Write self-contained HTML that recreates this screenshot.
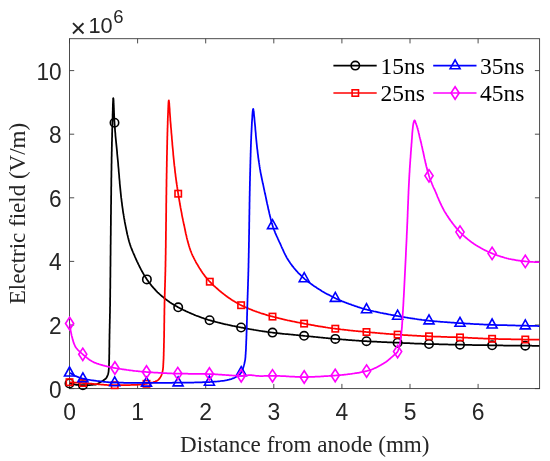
<!DOCTYPE html><html><head><meta charset="utf-8"><title>Electric field</title><style>html,body{margin:0;padding:0;background:#fff}svg{display:block}text{font-family:"Liberation Sans",sans-serif;fill:#262626}.t{font-family:"Liberation Serif",serif;fill:#000}.g{fill:#262626}</style></head><body>
<svg width="550" height="461" viewBox="0 0 550 461">
<rect width="550" height="461" fill="#fff"/>
<defs><clipPath id="c"><rect x="69.5" y="38.7" width="470.1" height="349.90000000000003"/></clipPath></defs>
<rect x="69.5" y="38.7" width="470.1" height="349.90000000000003" fill="none" stroke="#3a3a3a" stroke-width="0.9"/>
<path d="M69.5,388.6 v-4.7 M69.5,38.7 v4.7" stroke="#3a3a3a" stroke-width="0.9" fill="none"/>
<text transform="translate(69.5,420) scale(0.97,1)" font-size="23.6" text-anchor="middle">0</text>
<path d="M137.6,388.6 v-4.7 M137.6,38.7 v4.7" stroke="#3a3a3a" stroke-width="0.9" fill="none"/>
<text transform="translate(137.6,420) scale(0.97,1)" font-size="23.6" text-anchor="middle">1</text>
<path d="M205.7,388.6 v-4.7 M205.7,38.7 v4.7" stroke="#3a3a3a" stroke-width="0.9" fill="none"/>
<text transform="translate(205.7,420) scale(0.97,1)" font-size="23.6" text-anchor="middle">2</text>
<path d="M273.8,388.6 v-4.7 M273.8,38.7 v4.7" stroke="#3a3a3a" stroke-width="0.9" fill="none"/>
<text transform="translate(273.8,420) scale(0.97,1)" font-size="23.6" text-anchor="middle">3</text>
<path d="M341.9,388.6 v-4.7 M341.9,38.7 v4.7" stroke="#3a3a3a" stroke-width="0.9" fill="none"/>
<text transform="translate(341.9,420) scale(0.97,1)" font-size="23.6" text-anchor="middle">4</text>
<path d="M410.0,388.6 v-4.7 M410.0,38.7 v4.7" stroke="#3a3a3a" stroke-width="0.9" fill="none"/>
<text transform="translate(410.0,420) scale(0.97,1)" font-size="23.6" text-anchor="middle">5</text>
<path d="M478.1,388.6 v-4.7 M478.1,38.7 v4.7" stroke="#3a3a3a" stroke-width="0.9" fill="none"/>
<text transform="translate(478.1,420) scale(0.97,1)" font-size="23.6" text-anchor="middle">6</text>
<path d="M69.5,388.6 h4.7 M539.6,388.6 h-4.7" stroke="#3a3a3a" stroke-width="0.9" fill="none"/>
<text transform="translate(61.6,397.6) scale(0.96,1)" font-size="23.6" text-anchor="end">0</text>
<path d="M69.5,325.0 h4.7 M539.6,325.0 h-4.7" stroke="#3a3a3a" stroke-width="0.9" fill="none"/>
<text transform="translate(61.6,334.0) scale(0.96,1)" font-size="23.6" text-anchor="end">2</text>
<path d="M69.5,261.4 h4.7 M539.6,261.4 h-4.7" stroke="#3a3a3a" stroke-width="0.9" fill="none"/>
<text transform="translate(61.6,270.4) scale(0.96,1)" font-size="23.6" text-anchor="end">4</text>
<path d="M69.5,197.8 h4.7 M539.6,197.8 h-4.7" stroke="#3a3a3a" stroke-width="0.9" fill="none"/>
<text transform="translate(61.6,206.8) scale(0.96,1)" font-size="23.6" text-anchor="end">6</text>
<path d="M69.5,134.2 h4.7 M539.6,134.2 h-4.7" stroke="#3a3a3a" stroke-width="0.9" fill="none"/>
<text transform="translate(61.6,143.2) scale(0.96,1)" font-size="23.6" text-anchor="end">8</text>
<path d="M69.5,70.6 h4.7 M539.6,70.6 h-4.7" stroke="#3a3a3a" stroke-width="0.9" fill="none"/>
<text transform="translate(61.6,79.6) scale(0.96,1)" font-size="23.6" text-anchor="end">10</text>
<path d="M69.5,383.5 L70.5,383.7 L71.5,383.9 L72.5,384.1 L73.5,384.3 L74.4,384.5 L75.4,384.6 L76.4,384.8 L77.4,384.9 L78.4,385.0 L79.4,385.1 L80.4,385.1 L81.4,385.2 L82.4,385.2 L82.9,385.2 L83.4,385.2 L84.4,385.2 L85.4,385.2 L86.4,385.1 L87.4,385.1 L88.5,385.1 L89.5,385.0 L90.5,385.0 L91.5,384.9 L92.5,384.8 L93.4,384.7 L94.4,384.7 L95.0,384.6 L95.4,384.6 L96.3,384.3 L97.2,384.0 L98.1,383.5 L99.0,383.0 L99.9,382.5 L100.8,381.9 L101.3,381.6 L101.6,381.4 L102.5,380.9 L103.5,380.3 L104.3,379.7 L105.2,379.1 L105.9,378.5 L106.5,377.8 L106.5,377.7 L106.9,377.0 L107.3,376.1 L107.7,375.2 L108.1,374.2 L108.3,373.1 L108.5,372.1 L108.6,371.6 L108.6,371.2 L108.7,370.2 L108.8,369.2 L108.9,368.2 L108.9,367.2 L109.0,366.2 L109.0,365.2 L109.0,364.2 L109.1,363.2 L109.1,362.2 L109.1,362.0 L109.1,361.2 L109.1,360.2 L109.2,359.2 L109.2,358.2 L109.2,357.2 L109.2,356.2 L109.2,355.2 L109.3,354.2 L109.3,353.2 L109.3,352.2 L109.3,351.2 L109.3,350.2 L109.3,349.2 L109.3,348.2 L109.4,347.2 L109.4,346.2 L109.4,345.2 L109.4,344.2 L109.4,343.2 L109.4,342.2 L109.4,341.2 L109.4,340.2 L109.5,339.2 L109.5,338.2 L109.5,337.2 L109.5,336.2 L109.5,336.0 L109.5,335.2 L109.5,334.2 L109.6,333.2 L109.6,332.2 L109.6,331.2 L109.6,330.2 L109.6,329.2 L109.7,328.2 L109.7,327.2 L109.7,326.2 L109.7,325.2 L109.7,324.2 L109.8,323.2 L109.8,322.2 L109.8,321.2 L109.8,320.2 L109.8,319.2 L109.9,318.2 L109.9,317.2 L109.9,316.2 L109.9,315.2 L109.9,314.2 L110.0,313.2 L110.0,312.2 L110.0,311.2 L110.0,310.2 L110.0,310.0 L110.0,309.2 L110.0,308.2 L110.0,307.2 L110.1,306.2 L110.1,305.2 L110.1,304.2 L110.1,303.2 L110.1,302.2 L110.1,301.2 L110.1,300.2 L110.1,299.2 L110.1,298.2 L110.2,297.2 L110.2,296.2 L110.2,295.2 L110.2,294.2 L110.2,293.2 L110.2,292.2 L110.2,291.2 L110.2,290.2 L110.2,289.2 L110.3,288.2 L110.3,287.2 L110.3,286.2 L110.3,285.2 L110.3,284.2 L110.3,283.2 L110.3,282.2 L110.3,281.2 L110.3,280.2 L110.3,279.2 L110.3,278.2 L110.4,277.2 L110.4,276.2 L110.4,275.2 L110.4,274.2 L110.4,273.2 L110.4,272.2 L110.4,271.2 L110.4,270.2 L110.4,269.2 L110.4,268.2 L110.4,267.2 L110.5,266.2 L110.5,265.2 L110.5,264.2 L110.5,263.2 L110.5,262.2 L110.5,261.2 L110.5,260.2 L110.5,259.2 L110.5,258.2 L110.5,257.2 L110.5,256.2 L110.6,255.2 L110.6,254.2 L110.6,253.2 L110.6,252.2 L110.6,251.2 L110.6,250.2 L110.6,249.2 L110.6,248.2 L110.6,247.2 L110.6,246.2 L110.6,245.2 L110.7,244.2 L110.7,243.2 L110.7,242.2 L110.7,241.2 L110.7,240.2 L110.7,240.0 L110.7,239.2 L110.7,238.2 L110.7,237.2 L110.7,236.2 L110.8,235.2 L110.8,234.2 L110.8,233.2 L110.8,232.2 L110.8,231.2 L110.8,230.2 L110.8,229.2 L110.8,228.2 L110.8,227.2 L110.8,226.2 L110.9,225.2 L110.9,224.2 L110.9,223.2 L110.9,222.2 L110.9,221.2 L110.9,220.2 L110.9,219.2 L110.9,218.2 L110.9,217.2 L110.9,216.2 L110.9,215.2 L111.0,214.2 L111.0,213.2 L111.0,212.2 L111.0,211.2 L111.0,210.2 L111.0,209.2 L111.0,208.2 L111.0,207.2 L111.0,206.2 L111.0,205.2 L111.1,204.2 L111.1,203.2 L111.1,202.2 L111.1,201.2 L111.1,200.2 L111.1,199.2 L111.1,198.2 L111.1,197.2 L111.1,196.2 L111.2,195.2 L111.2,194.2 L111.2,193.2 L111.2,192.2 L111.2,191.2 L111.2,190.2 L111.2,189.2 L111.2,188.2 L111.2,187.2 L111.3,186.2 L111.3,185.2 L111.3,184.2 L111.3,183.2 L111.3,182.2 L111.3,181.2 L111.3,180.2 L111.3,179.2 L111.3,178.2 L111.4,177.2 L111.4,176.2 L111.4,175.2 L111.4,174.2 L111.4,173.2 L111.4,172.2 L111.4,171.2 L111.5,170.2 L111.5,169.2 L111.5,168.2 L111.5,167.2 L111.5,166.2 L111.5,165.2 L111.5,164.2 L111.6,163.2 L111.6,162.2 L111.6,161.2 L111.6,160.2 L111.6,160.0 L111.6,159.2 L111.6,158.2 L111.6,157.2 L111.7,156.2 L111.7,155.2 L111.7,154.2 L111.7,153.2 L111.7,152.2 L111.8,151.2 L111.8,150.2 L111.8,149.2 L111.8,148.2 L111.8,147.2 L111.9,146.2 L111.9,145.2 L111.9,144.2 L111.9,143.2 L111.9,142.2 L112.0,141.2 L112.0,140.2 L112.0,139.2 L112.0,138.2 L112.1,137.2 L112.1,136.2 L112.1,135.2 L112.1,134.2 L112.1,133.2 L112.2,132.2 L112.2,131.2 L112.2,130.2 L112.2,129.2 L112.3,128.2 L112.3,127.2 L112.3,126.2 L112.4,125.2 L112.4,124.2 L112.4,123.2 L112.4,122.2 L112.5,121.2 L112.5,120.2 L112.5,120.0 L112.5,119.2 L112.6,118.1 L112.6,116.9 L112.6,115.6 L112.6,114.4 L112.7,113.1 L112.7,111.7 L112.8,110.4 L112.8,109.1 L112.8,107.8 L112.9,106.5 L112.9,105.3 L112.9,104.1 L113.0,103.0 L113.0,102.0 L113.1,101.0 L113.1,100.2 L113.1,99.5 L113.2,99.0 L113.2,98.6 L113.3,98.3 L113.3,98.2 L113.3,98.2 L113.3,98.3 L113.4,98.5 L113.4,98.9 L113.5,99.4 L113.5,100.0 L113.6,100.8 L113.6,101.6 L113.6,102.6 L113.7,103.6 L113.7,104.7 L113.8,105.8 L113.8,107.1 L113.9,108.3 L113.9,109.6 L114.0,110.9 L114.0,112.2 L114.1,113.6 L114.1,114.9 L114.2,116.2 L114.2,117.5 L114.3,118.7 L114.3,119.9 L114.4,121.1 L114.5,122.2 L114.5,122.7 L114.5,123.2 L114.6,124.2 L114.7,125.2 L114.7,126.2 L114.8,127.2 L114.9,128.1 L115.0,129.1 L115.0,130.1 L115.1,131.1 L115.2,132.1 L115.3,133.1 L115.4,134.1 L115.4,135.1 L115.5,136.1 L115.6,137.1 L115.7,138.1 L115.8,139.1 L115.9,140.1 L116.0,141.1 L116.1,142.1 L116.2,143.1 L116.3,144.1 L116.4,145.1 L116.5,146.1 L116.6,147.1 L116.7,148.1 L116.8,149.1 L116.9,150.1 L117.0,151.1 L117.1,152.1 L117.1,153.0 L117.2,154.0 L117.3,155.0 L117.4,156.0 L117.5,157.0 L117.6,158.0 L117.7,159.0 L117.8,160.0 L117.8,160.0 L117.9,161.0 L118.0,162.0 L118.1,163.0 L118.2,164.0 L118.2,165.0 L118.3,166.0 L118.4,167.0 L118.5,168.0 L118.6,169.0 L118.7,170.0 L118.7,171.0 L118.8,172.0 L118.9,173.0 L119.0,174.0 L119.1,175.0 L119.2,176.0 L119.2,177.0 L119.3,178.0 L119.4,179.0 L119.5,180.0 L119.6,181.0 L119.7,182.0 L119.7,183.0 L119.8,184.0 L119.9,184.9 L120.0,185.9 L120.1,186.9 L120.2,187.9 L120.3,188.9 L120.4,189.9 L120.5,190.9 L120.6,191.9 L120.7,192.9 L120.8,193.9 L120.9,194.9 L121.0,195.9 L121.1,196.9 L121.2,197.9 L121.4,198.9 L121.5,199.8 L121.5,200.0 L121.6,200.8 L121.7,201.8 L121.9,202.8 L122.0,203.8 L122.1,204.8 L122.2,205.8 L122.4,206.8 L122.5,207.8 L122.7,208.8 L122.8,209.8 L122.9,210.8 L123.1,211.8 L123.2,212.8 L123.4,213.8 L123.6,214.7 L123.7,215.7 L123.9,216.7 L124.0,217.7 L124.2,218.7 L124.4,219.7 L124.6,220.7 L124.7,221.7 L124.9,222.7 L125.1,223.7 L125.3,224.6 L125.5,225.6 L125.7,226.6 L125.9,227.6 L126.1,228.6 L126.3,229.6 L126.5,230.5 L126.7,231.5 L126.9,232.5 L127.1,233.5 L127.3,234.4 L127.6,235.4 L127.8,236.4 L128.0,237.3 L128.3,238.3 L128.5,239.2 L128.7,240.0 L128.8,240.2 L129.0,241.2 L129.3,242.1 L129.6,243.1 L129.9,244.0 L130.2,245.0 L130.5,245.9 L130.8,246.8 L131.2,247.8 L131.6,248.7 L131.9,249.7 L132.3,250.6 L132.7,251.5 L133.1,252.5 L133.5,253.4 L133.9,254.3 L134.3,255.2 L134.7,256.1 L135.1,257.1 L135.5,258.0 L135.9,258.9 L136.3,259.8 L136.4,260.0 L136.7,260.7 L137.1,261.6 L137.6,262.5 L138.0,263.4 L138.4,264.3 L138.9,265.2 L139.3,266.1 L139.7,267.0 L140.2,267.9 L140.7,268.8 L141.1,269.7 L141.6,270.6 L142.1,271.5 L142.6,272.4 L143.1,273.3 L143.6,274.1 L144.1,275.0 L144.6,275.8 L145.1,276.7 L145.7,277.5 L146.2,278.3 L146.7,279.2 L146.9,279.4 L147.3,280.0 L147.9,280.8 L148.4,281.6 L149.0,282.4 L149.6,283.2 L150.3,284.0 L150.9,284.8 L151.5,285.6 L152.2,286.4 L152.8,287.1 L153.5,287.9 L154.2,288.6 L154.9,289.4 L155.5,290.1 L156.2,290.9 L156.9,291.6 L157.6,292.3 L158.4,293.0 L159.1,293.7 L159.8,294.3 L160.0,294.5 L160.5,295.0 L161.3,295.6 L162.0,296.3 L162.8,296.9 L163.6,297.5 L164.3,298.2 L165.1,298.8 L165.9,299.4 L166.7,300.0 L167.6,300.6 L168.4,301.2 L169.2,301.8 L170.0,302.4 L170.9,302.9 L171.7,303.5 L172.6,304.0 L173.4,304.5 L174.3,305.1 L175.2,305.6 L176.0,306.1 L176.9,306.6 L177.7,307.1 L178.2,307.3 L178.6,307.5 L179.5,308.0 L180.4,308.4 L181.2,308.9 L182.1,309.3 L183.0,309.8 L183.9,310.2 L184.8,310.6 L185.7,311.1 L186.6,311.5 L187.5,311.9 L188.4,312.3 L189.4,312.7 L190.3,313.1 L191.2,313.5 L192.1,313.9 L193.1,314.3 L194.0,314.7 L194.9,315.1 L195.9,315.5 L196.8,315.8 L197.8,316.2 L198.7,316.5 L199.7,316.9 L200.6,317.2 L201.6,317.6 L202.5,317.9 L203.5,318.2 L204.4,318.6 L205.4,318.9 L206.3,319.2 L207.3,319.5 L208.2,319.8 L209.2,320.1 L209.6,320.2 L210.1,320.3 L211.1,320.6 L212.0,320.9 L213.0,321.2 L213.9,321.4 L214.9,321.7 L215.8,322.0 L216.8,322.2 L217.8,322.5 L218.8,322.7 L219.7,322.9 L220.7,323.2 L221.7,323.4 L222.6,323.6 L223.6,323.9 L224.6,324.1 L225.6,324.3 L226.6,324.5 L227.5,324.7 L228.5,325.0 L229.5,325.2 L230.5,325.4 L231.5,325.6 L232.4,325.8 L233.4,326.0 L234.4,326.2 L235.4,326.4 L236.4,326.6 L237.4,326.8 L238.3,327.0 L239.3,327.2 L240.3,327.3 L241.1,327.5 L241.3,327.5 L242.3,327.7 L243.3,327.9 L244.2,328.1 L245.2,328.3 L246.2,328.5 L247.2,328.6 L248.2,328.8 L249.2,329.0 L250.1,329.2 L251.1,329.3 L252.1,329.5 L253.1,329.7 L254.1,329.9 L255.1,330.0 L256.1,330.2 L257.0,330.3 L258.0,330.5 L259.0,330.7 L260.0,330.8 L261.0,331.0 L262.0,331.1 L263.0,331.3 L264.0,331.4 L265.0,331.6 L265.9,331.7 L266.9,331.9 L267.9,332.0 L268.9,332.1 L269.9,332.3 L270.9,332.4 L271.9,332.5 L272.5,332.6 L272.9,332.6 L273.9,332.8 L274.9,332.9 L275.9,333.0 L276.8,333.1 L277.8,333.2 L278.8,333.3 L279.8,333.4 L280.8,333.6 L281.8,333.7 L282.8,333.8 L283.8,333.9 L284.8,334.0 L285.8,334.1 L286.8,334.2 L287.8,334.2 L288.8,334.3 L289.8,334.4 L290.8,334.5 L291.8,334.6 L292.8,334.7 L293.8,334.8 L294.8,334.9 L295.8,335.0 L296.8,335.1 L297.7,335.2 L298.7,335.3 L299.7,335.4 L300.7,335.5 L301.7,335.6 L302.7,335.7 L303.7,335.8 L304.1,335.8 L304.7,335.9 L305.7,336.0 L306.7,336.1 L307.7,336.2 L308.7,336.3 L309.7,336.4 L310.7,336.5 L311.7,336.6 L312.7,336.7 L313.7,336.8 L314.7,336.9 L315.7,337.0 L316.7,337.1 L317.6,337.2 L318.6,337.3 L319.6,337.4 L320.6,337.5 L321.6,337.6 L322.6,337.7 L323.6,337.8 L324.6,337.9 L325.6,338.0 L326.6,338.1 L327.6,338.2 L328.6,338.3 L329.6,338.4 L330.6,338.5 L331.6,338.6 L332.6,338.7 L333.6,338.8 L334.6,338.8 L335.3,338.9 L335.6,338.9 L336.6,339.0 L337.6,339.1 L338.6,339.2 L339.6,339.3 L340.5,339.3 L341.5,339.4 L342.5,339.5 L343.5,339.6 L344.5,339.7 L345.5,339.7 L346.5,339.8 L347.5,339.9 L348.5,340.0 L349.5,340.0 L350.5,340.1 L351.5,340.2 L352.5,340.3 L353.5,340.3 L354.5,340.4 L355.5,340.5 L356.5,340.6 L357.5,340.6 L358.5,340.7 L359.5,340.8 L360.5,340.8 L361.5,340.9 L362.5,341.0 L363.5,341.0 L364.5,341.1 L365.5,341.1 L366.5,341.2 L366.5,341.2 L367.5,341.3 L368.5,341.3 L369.5,341.4 L370.5,341.4 L371.5,341.5 L372.5,341.5 L373.5,341.6 L374.5,341.6 L375.5,341.7 L376.5,341.7 L377.5,341.8 L378.5,341.8 L379.5,341.9 L380.5,341.9 L381.5,342.0 L382.5,342.0 L383.5,342.1 L384.5,342.1 L385.5,342.2 L386.5,342.2 L387.5,342.3 L388.5,342.3 L389.5,342.3 L390.5,342.4 L391.5,342.4 L392.5,342.5 L393.4,342.5 L394.4,342.6 L395.4,342.6 L396.4,342.6 L397.4,342.7 L397.6,342.7 L398.4,342.7 L399.4,342.8 L400.4,342.8 L401.4,342.9 L402.4,342.9 L403.4,343.0 L404.4,343.0 L405.4,343.1 L406.4,343.1 L407.4,343.1 L408.4,343.2 L409.4,343.2 L410.4,343.3 L411.4,343.3 L412.4,343.4 L413.4,343.4 L414.4,343.5 L415.4,343.5 L416.4,343.5 L417.4,343.6 L418.4,343.6 L419.4,343.7 L420.4,343.7 L421.4,343.7 L422.4,343.8 L423.4,343.8 L424.4,343.9 L425.4,343.9 L426.4,343.9 L427.4,344.0 L428.4,344.0 L429.0,344.0 L429.4,344.0 L430.4,344.0 L431.4,344.1 L432.4,344.1 L433.4,344.1 L434.4,344.1 L435.4,344.2 L436.4,344.2 L437.4,344.2 L438.4,344.2 L439.4,344.3 L440.4,344.3 L441.4,344.3 L442.4,344.3 L443.4,344.4 L444.4,344.4 L445.4,344.4 L446.4,344.4 L447.4,344.4 L448.4,344.5 L449.4,344.5 L450.4,344.5 L451.4,344.5 L452.4,344.5 L453.4,344.6 L454.4,344.6 L455.4,344.6 L456.4,344.6 L457.4,344.6 L458.4,344.7 L459.4,344.7 L460.0,344.7 L460.4,344.7 L461.4,344.7 L462.4,344.7 L463.4,344.8 L464.4,344.8 L465.4,344.8 L466.4,344.8 L467.4,344.9 L468.4,344.9 L469.4,344.9 L470.4,344.9 L471.4,344.9 L472.4,345.0 L473.4,345.0 L474.4,345.0 L475.4,345.0 L476.4,345.0 L477.4,345.0 L478.4,345.1 L479.4,345.1 L480.4,345.1 L481.4,345.1 L482.4,345.1 L483.4,345.2 L484.4,345.2 L485.4,345.2 L486.4,345.2 L487.4,345.2 L488.4,345.2 L489.4,345.3 L490.4,345.3 L491.4,345.3 L492.1,345.3 L492.4,345.3 L493.4,345.3 L494.4,345.3 L495.4,345.3 L496.4,345.4 L497.4,345.4 L498.4,345.4 L499.4,345.4 L500.4,345.4 L501.4,345.4 L502.4,345.4 L503.4,345.5 L504.4,345.5 L505.4,345.5 L506.4,345.5 L507.4,345.5 L508.4,345.5 L509.4,345.5 L510.4,345.5 L511.4,345.6 L512.4,345.6 L513.4,345.6 L514.4,345.6 L515.4,345.6 L516.4,345.6 L517.4,345.6 L518.4,345.6 L519.4,345.6 L520.4,345.7 L521.4,345.7 L522.4,345.7 L523.4,345.7 L524.4,345.7 L525.3,345.7 L525.4,345.7 L526.4,345.7 L527.4,345.7 L528.4,345.7 L529.4,345.7 L530.4,345.7 L531.4,345.7 L532.4,345.8 L533.4,345.8 L534.4,345.8 L535.4,345.8 L536.4,345.8 L537.4,345.8 L538.4,345.8 L539.4,345.8 L539.6,345.8" fill="none" stroke="#000000" stroke-width="1.75" stroke-linejoin="round" clip-path="url(#c)"/>
<circle cx="69.5" cy="383.5" r="4.2" fill="none" stroke="#000000" stroke-width="1.6"/>
<circle cx="82.9" cy="385.2" r="4.2" fill="none" stroke="#000000" stroke-width="1.6"/>
<circle cx="114.5" cy="122.7" r="4.2" fill="none" stroke="#000000" stroke-width="1.6"/>
<circle cx="146.9" cy="279.4" r="4.2" fill="none" stroke="#000000" stroke-width="1.6"/>
<circle cx="178.2" cy="307.3" r="4.2" fill="none" stroke="#000000" stroke-width="1.6"/>
<circle cx="209.6" cy="320.2" r="4.2" fill="none" stroke="#000000" stroke-width="1.6"/>
<circle cx="241.1" cy="327.5" r="4.2" fill="none" stroke="#000000" stroke-width="1.6"/>
<circle cx="272.5" cy="332.6" r="4.2" fill="none" stroke="#000000" stroke-width="1.6"/>
<circle cx="304.1" cy="335.8" r="4.2" fill="none" stroke="#000000" stroke-width="1.6"/>
<circle cx="335.3" cy="338.9" r="4.2" fill="none" stroke="#000000" stroke-width="1.6"/>
<circle cx="366.5" cy="341.2" r="4.2" fill="none" stroke="#000000" stroke-width="1.6"/>
<circle cx="397.6" cy="342.7" r="4.2" fill="none" stroke="#000000" stroke-width="1.6"/>
<circle cx="429.0" cy="344.0" r="4.2" fill="none" stroke="#000000" stroke-width="1.6"/>
<circle cx="460.0" cy="344.7" r="4.2" fill="none" stroke="#000000" stroke-width="1.6"/>
<circle cx="492.1" cy="345.3" r="4.2" fill="none" stroke="#000000" stroke-width="1.6"/>
<circle cx="525.3" cy="345.7" r="4.2" fill="none" stroke="#000000" stroke-width="1.6"/>
<path d="M69.5,382.2 L70.5,382.3 L71.5,382.3 L72.5,382.4 L73.5,382.4 L74.5,382.5 L75.5,382.5 L76.5,382.6 L77.5,382.7 L78.5,382.7 L79.5,382.8 L80.5,382.8 L81.5,382.9 L82.5,383.0 L82.9,383.0 L83.5,383.0 L84.5,383.1 L85.5,383.2 L86.5,383.3 L87.5,383.3 L88.5,383.4 L89.5,383.5 L90.5,383.6 L91.5,383.7 L92.5,383.8 L93.4,383.9 L94.4,384.0 L95.4,384.0 L96.4,384.1 L97.4,384.2 L98.4,384.3 L99.4,384.4 L100.4,384.5 L101.4,384.6 L102.4,384.7 L103.4,384.7 L104.4,384.8 L105.4,384.9 L106.4,384.9 L107.4,385.0 L108.4,385.0 L109.4,385.1 L110.4,385.1 L111.4,385.2 L112.4,385.2 L113.4,385.2 L114.4,385.2 L114.7,385.2 L115.4,385.2 L116.4,385.2 L117.4,385.2 L118.4,385.2 L119.4,385.2 L120.4,385.2 L121.4,385.2 L122.4,385.1 L123.4,385.1 L124.4,385.1 L125.4,385.1 L126.4,385.1 L127.4,385.0 L128.4,385.0 L129.4,385.0 L130.4,385.0 L131.4,384.9 L132.4,384.9 L133.4,384.9 L134.4,384.8 L135.4,384.8 L136.4,384.8 L137.4,384.7 L138.4,384.7 L139.4,384.6 L140.0,384.6 L140.4,384.6 L141.4,384.5 L142.4,384.4 L143.4,384.3 L144.4,384.2 L145.4,384.0 L146.4,383.8 L147.4,383.7 L148.3,383.5 L149.3,383.2 L150.3,383.0 L151.3,382.8 L151.6,382.7 L152.2,382.5 L153.2,382.3 L154.2,381.9 L155.2,381.5 L156.1,381.1 L157.0,380.7 L157.8,380.2 L158.0,380.0 L158.5,379.6 L159.2,378.9 L159.8,378.1 L160.4,377.2 L160.9,376.3 L161.4,375.4 L161.5,375.0 L161.7,374.5 L162.0,373.5 L162.3,372.6 L162.5,371.6 L162.7,370.6 L162.9,369.6 L163.0,368.7 L163.0,368.6 L163.1,367.6 L163.2,366.6 L163.2,365.6 L163.3,364.6 L163.3,363.6 L163.4,362.6 L163.4,361.6 L163.5,360.6 L163.5,359.6 L163.6,358.6 L163.6,357.6 L163.6,356.6 L163.7,355.6 L163.7,354.6 L163.7,353.6 L163.7,352.6 L163.8,351.6 L163.8,350.6 L163.8,350.0 L163.8,349.6 L163.8,348.6 L163.9,347.6 L163.9,346.6 L163.9,345.6 L163.9,344.6 L163.9,343.6 L164.0,342.6 L164.0,341.6 L164.0,340.6 L164.0,339.6 L164.0,338.6 L164.1,337.6 L164.1,336.6 L164.1,335.6 L164.1,334.6 L164.1,333.6 L164.1,332.6 L164.1,331.6 L164.2,330.6 L164.2,329.6 L164.2,328.6 L164.2,327.6 L164.2,326.6 L164.2,325.6 L164.2,324.6 L164.2,323.6 L164.3,322.6 L164.3,321.6 L164.3,320.6 L164.3,319.6 L164.3,318.6 L164.3,317.6 L164.3,316.6 L164.3,315.6 L164.4,314.6 L164.4,313.6 L164.4,312.6 L164.4,311.6 L164.4,310.6 L164.4,309.6 L164.4,308.6 L164.5,307.6 L164.5,306.6 L164.5,305.6 L164.5,304.6 L164.5,303.6 L164.5,302.6 L164.6,301.6 L164.6,300.6 L164.6,300.0 L164.6,299.6 L164.6,298.6 L164.7,297.6 L164.7,296.6 L164.7,295.6 L164.7,294.6 L164.8,293.6 L164.8,292.6 L164.8,291.6 L164.8,290.6 L164.9,289.6 L164.9,288.6 L164.9,287.6 L165.0,286.6 L165.0,285.6 L165.0,284.6 L165.0,283.6 L165.1,282.6 L165.1,281.6 L165.1,280.6 L165.2,279.6 L165.2,278.6 L165.2,277.6 L165.2,276.6 L165.3,275.6 L165.3,274.6 L165.3,273.6 L165.3,272.6 L165.4,271.6 L165.4,270.6 L165.4,270.0 L165.4,269.6 L165.4,268.6 L165.4,267.6 L165.5,266.6 L165.5,265.6 L165.5,264.6 L165.5,263.6 L165.5,262.6 L165.5,261.6 L165.6,260.6 L165.6,259.6 L165.6,258.6 L165.6,257.6 L165.6,256.6 L165.6,255.6 L165.7,254.6 L165.7,253.6 L165.7,252.6 L165.7,251.6 L165.7,250.6 L165.7,249.6 L165.7,248.6 L165.8,247.6 L165.8,246.6 L165.8,245.6 L165.8,244.6 L165.8,243.6 L165.8,242.6 L165.8,241.6 L165.8,240.6 L165.9,239.6 L165.9,238.6 L165.9,237.6 L165.9,236.6 L165.9,235.6 L165.9,234.6 L165.9,233.6 L165.9,232.6 L165.9,231.6 L166.0,230.6 L166.0,229.6 L166.0,228.6 L166.0,227.6 L166.0,226.6 L166.0,225.6 L166.0,224.6 L166.0,223.6 L166.0,222.6 L166.1,221.6 L166.1,220.6 L166.1,219.6 L166.1,218.6 L166.1,217.6 L166.1,216.6 L166.1,215.6 L166.1,214.6 L166.1,213.6 L166.2,212.6 L166.2,211.6 L166.2,210.6 L166.2,209.6 L166.2,208.6 L166.2,207.6 L166.2,206.6 L166.2,205.6 L166.2,204.6 L166.2,203.6 L166.3,202.6 L166.3,201.6 L166.3,200.6 L166.3,199.6 L166.3,198.6 L166.3,197.6 L166.3,196.6 L166.3,195.6 L166.4,194.6 L166.4,193.6 L166.4,192.6 L166.4,191.6 L166.4,190.6 L166.4,189.6 L166.4,188.6 L166.4,187.6 L166.5,186.6 L166.5,185.6 L166.5,184.6 L166.5,183.6 L166.5,182.6 L166.5,181.6 L166.5,180.6 L166.5,179.6 L166.6,178.6 L166.6,177.6 L166.6,176.6 L166.6,175.6 L166.6,174.6 L166.6,173.6 L166.7,172.6 L166.7,171.6 L166.7,170.6 L166.7,170.0 L166.7,169.6 L166.7,168.6 L166.7,167.6 L166.8,166.6 L166.8,165.6 L166.8,164.6 L166.8,163.6 L166.8,162.6 L166.8,161.6 L166.9,160.6 L166.9,159.6 L166.9,158.6 L166.9,157.6 L166.9,156.6 L166.9,155.6 L167.0,154.6 L167.0,153.6 L167.0,152.6 L167.0,151.6 L167.0,150.6 L167.1,149.6 L167.1,148.6 L167.1,147.6 L167.1,146.6 L167.1,145.6 L167.2,144.6 L167.2,143.6 L167.2,142.6 L167.2,141.6 L167.2,140.6 L167.3,139.6 L167.3,138.6 L167.3,137.6 L167.3,136.6 L167.4,135.6 L167.4,134.6 L167.4,133.6 L167.4,132.6 L167.5,131.6 L167.5,130.6 L167.5,129.6 L167.5,128.6 L167.6,127.6 L167.6,126.6 L167.6,125.6 L167.7,124.6 L167.7,123.6 L167.7,122.6 L167.7,121.6 L167.8,120.6 L167.8,120.0 L167.8,119.6 L167.8,118.6 L167.9,117.4 L167.9,116.2 L168.0,114.9 L168.0,113.6 L168.1,112.3 L168.1,110.9 L168.2,109.6 L168.2,108.3 L168.3,107.1 L168.3,105.9 L168.4,104.8 L168.4,103.8 L168.5,102.8 L168.5,102.1 L168.6,101.4 L168.7,100.9 L168.7,100.6 L168.8,100.4 L168.8,100.4 L168.8,100.4 L168.9,100.7 L169.0,101.0 L169.0,101.6 L169.1,102.2 L169.2,103.0 L169.3,103.9 L169.3,104.9 L169.4,106.0 L169.5,107.2 L169.6,108.4 L169.7,109.6 L169.7,110.9 L169.8,112.3 L169.9,113.6 L170.0,114.9 L170.1,116.2 L170.2,117.5 L170.3,118.7 L170.3,119.9 L170.4,121.0 L170.5,122.0 L170.5,122.1 L170.6,123.1 L170.7,124.1 L170.8,125.1 L170.8,126.1 L170.9,127.0 L171.0,128.0 L171.1,129.0 L171.2,130.0 L171.3,131.0 L171.3,132.0 L171.4,133.0 L171.5,134.0 L171.6,135.0 L171.7,136.0 L171.8,137.0 L171.8,138.0 L171.9,139.0 L172.0,140.0 L172.1,141.0 L172.2,142.0 L172.3,143.0 L172.3,144.0 L172.4,145.0 L172.5,146.0 L172.6,147.0 L172.7,148.0 L172.8,149.0 L172.9,150.0 L173.0,151.0 L173.1,152.0 L173.2,153.0 L173.2,154.0 L173.3,155.0 L173.4,155.9 L173.5,156.9 L173.6,157.9 L173.7,158.9 L173.8,159.9 L173.9,160.9 L174.0,161.9 L174.1,162.9 L174.2,163.9 L174.3,164.9 L174.4,165.9 L174.6,166.9 L174.7,167.9 L174.8,168.9 L174.9,169.9 L174.9,170.0 L175.0,170.9 L175.1,171.9 L175.2,172.8 L175.4,173.8 L175.5,174.8 L175.6,175.8 L175.7,176.8 L175.9,177.8 L176.0,178.8 L176.1,179.8 L176.3,180.8 L176.4,181.8 L176.5,182.8 L176.7,183.7 L176.8,184.7 L177.0,185.7 L177.1,186.7 L177.3,187.7 L177.4,188.7 L177.6,189.7 L177.7,190.7 L177.9,191.7 L178.0,192.6 L178.2,193.6 L178.2,193.7 L178.3,194.6 L178.5,195.6 L178.7,196.6 L178.8,197.6 L179.0,198.6 L179.2,199.6 L179.3,200.5 L179.5,201.5 L179.7,202.5 L179.8,203.5 L180.0,204.5 L180.2,205.5 L180.4,206.5 L180.5,207.4 L180.7,208.4 L180.9,209.4 L181.1,210.4 L181.3,211.4 L181.5,212.4 L181.7,213.3 L181.8,214.3 L182.0,215.3 L182.2,216.3 L182.4,217.3 L182.6,218.2 L182.8,219.2 L183.0,220.2 L183.2,221.0 L183.2,221.2 L183.4,222.2 L183.6,223.1 L183.8,224.1 L184.0,225.1 L184.3,226.1 L184.5,227.1 L184.7,228.1 L184.9,229.0 L185.1,230.0 L185.3,231.0 L185.5,232.0 L185.7,233.0 L185.9,234.0 L186.2,235.0 L186.4,235.9 L186.6,236.9 L186.8,237.9 L187.1,238.9 L187.3,239.8 L187.6,240.8 L187.8,241.8 L188.1,242.7 L188.4,243.7 L188.6,244.6 L188.9,245.6 L189.2,246.5 L189.5,247.5 L189.8,248.4 L190.0,249.0 L190.1,249.3 L190.4,250.3 L190.8,251.2 L191.2,252.1 L191.5,253.0 L191.9,254.0 L192.3,254.9 L192.7,255.8 L193.2,256.7 L193.6,257.6 L194.1,258.5 L194.5,259.4 L195.0,260.3 L195.5,261.2 L195.9,262.1 L196.4,263.0 L196.9,263.8 L197.5,264.7 L198.0,265.6 L198.5,266.5 L199.0,267.3 L199.5,268.2 L200.1,269.0 L200.6,269.8 L201.0,270.5 L201.1,270.7 L201.7,271.5 L202.2,272.3 L202.8,273.2 L203.4,274.0 L204.0,274.8 L204.6,275.6 L205.2,276.4 L205.8,277.2 L206.5,278.0 L207.1,278.8 L207.8,279.5 L208.4,280.3 L209.1,281.0 L209.8,281.7 L209.8,281.7 L210.5,282.4 L211.2,283.1 L211.9,283.8 L212.6,284.5 L213.3,285.1 L214.0,285.8 L214.8,286.5 L215.5,287.2 L216.3,287.9 L217.0,288.5 L217.8,289.2 L218.5,289.9 L219.3,290.5 L220.1,291.2 L220.9,291.8 L221.7,292.5 L222.5,293.1 L223.3,293.7 L224.1,294.4 L224.9,295.0 L225.7,295.6 L226.5,296.2 L227.3,296.8 L228.2,297.4 L229.0,298.0 L229.8,298.6 L230.7,299.1 L231.5,299.7 L232.4,300.2 L233.2,300.8 L234.1,301.3 L234.9,301.8 L235.8,302.3 L236.6,302.8 L237.5,303.3 L238.4,303.8 L239.2,304.2 L240.1,304.7 L241.0,305.1 L241.1,305.2 L241.8,305.6 L242.7,306.0 L243.6,306.4 L244.5,306.8 L245.4,307.2 L246.3,307.6 L247.2,308.0 L248.1,308.4 L249.0,308.8 L249.9,309.2 L250.9,309.5 L251.8,309.9 L252.7,310.3 L253.7,310.6 L254.6,311.0 L255.6,311.3 L256.5,311.6 L257.5,312.0 L258.5,312.3 L259.4,312.6 L260.4,313.0 L261.3,313.3 L262.3,313.6 L263.3,313.9 L264.2,314.2 L265.2,314.5 L266.2,314.8 L267.1,315.1 L268.1,315.4 L269.1,315.6 L270.0,315.9 L271.0,316.2 L272.0,316.4 L272.5,316.6 L272.9,316.7 L273.9,317.0 L274.8,317.2 L275.8,317.5 L276.8,317.7 L277.7,318.0 L278.7,318.2 L279.7,318.5 L280.6,318.7 L281.6,318.9 L282.6,319.2 L283.6,319.4 L284.5,319.6 L285.5,319.8 L286.5,320.0 L287.5,320.3 L288.4,320.5 L289.4,320.7 L290.4,320.9 L291.4,321.1 L292.4,321.3 L293.4,321.5 L294.3,321.7 L295.3,321.9 L296.3,322.1 L297.3,322.3 L298.3,322.5 L299.2,322.7 L300.2,322.9 L301.2,323.1 L302.2,323.2 L303.2,323.4 L304.1,323.6 L304.2,323.6 L305.1,323.8 L306.1,324.0 L307.1,324.2 L308.1,324.3 L309.1,324.5 L310.1,324.7 L311.0,324.9 L312.0,325.1 L313.0,325.2 L314.0,325.4 L315.0,325.6 L316.0,325.8 L317.0,325.9 L317.9,326.1 L318.9,326.3 L319.9,326.4 L320.9,326.6 L321.9,326.7 L322.9,326.9 L323.9,327.1 L324.9,327.2 L325.8,327.4 L326.8,327.5 L327.8,327.7 L328.8,327.8 L329.8,328.0 L330.8,328.1 L331.8,328.2 L332.8,328.4 L333.8,328.5 L334.8,328.6 L335.3,328.7 L335.7,328.8 L336.7,328.9 L337.7,329.0 L338.7,329.1 L339.7,329.2 L340.7,329.4 L341.7,329.5 L342.7,329.6 L343.7,329.7 L344.7,329.8 L345.7,329.9 L346.7,330.0 L347.7,330.1 L348.7,330.3 L349.6,330.4 L350.6,330.5 L351.6,330.6 L352.6,330.7 L353.6,330.8 L354.6,330.9 L355.6,331.0 L356.6,331.1 L357.6,331.2 L358.6,331.3 L359.6,331.3 L360.6,331.4 L361.6,331.5 L362.6,331.6 L363.6,331.7 L364.6,331.8 L365.6,331.9 L366.5,332.0 L366.6,332.0 L367.6,332.1 L368.6,332.2 L369.6,332.3 L370.6,332.4 L371.6,332.5 L372.5,332.6 L373.5,332.7 L374.5,332.7 L375.5,332.8 L376.5,332.9 L377.5,333.0 L378.5,333.1 L379.5,333.2 L380.5,333.3 L381.5,333.4 L382.5,333.4 L383.5,333.5 L384.5,333.6 L385.5,333.7 L386.5,333.8 L387.5,333.9 L388.5,333.9 L389.5,334.0 L390.5,334.1 L391.5,334.2 L392.5,334.2 L393.5,334.3 L394.5,334.4 L395.5,334.5 L396.5,334.5 L397.5,334.6 L397.6,334.6 L398.5,334.7 L399.5,334.7 L400.5,334.8 L401.5,334.8 L402.5,334.9 L403.5,335.0 L404.5,335.0 L405.4,335.1 L406.4,335.2 L407.4,335.2 L408.4,335.3 L409.4,335.3 L410.4,335.4 L411.4,335.4 L412.4,335.5 L413.4,335.5 L414.4,335.6 L415.4,335.7 L416.4,335.7 L417.4,335.8 L418.4,335.8 L419.4,335.9 L420.4,335.9 L421.4,336.0 L422.4,336.0 L423.4,336.1 L424.4,336.1 L425.4,336.1 L426.4,336.2 L427.4,336.2 L428.4,336.3 L429.0,336.3 L429.4,336.3 L430.4,336.4 L431.4,336.4 L432.4,336.4 L433.4,336.5 L434.4,336.5 L435.4,336.6 L436.4,336.6 L437.4,336.6 L438.4,336.7 L439.4,336.7 L440.4,336.7 L441.4,336.8 L442.4,336.8 L443.4,336.8 L444.4,336.9 L445.4,336.9 L446.4,336.9 L447.4,337.0 L448.4,337.0 L449.4,337.0 L450.4,337.1 L451.4,337.1 L452.4,337.1 L453.4,337.2 L454.4,337.2 L455.4,337.2 L456.4,337.3 L457.4,337.3 L458.4,337.3 L459.4,337.4 L460.0,337.4 L460.4,337.4 L461.4,337.5 L462.4,337.5 L463.4,337.5 L464.4,337.6 L465.4,337.6 L466.4,337.7 L467.4,337.7 L468.4,337.8 L469.4,337.8 L470.4,337.9 L471.4,337.9 L472.4,338.0 L473.4,338.0 L474.4,338.1 L475.4,338.1 L476.4,338.2 L477.4,338.2 L478.4,338.3 L479.4,338.3 L480.4,338.3 L481.4,338.4 L482.4,338.4 L483.4,338.5 L484.4,338.5 L485.4,338.6 L486.4,338.6 L487.4,338.6 L488.4,338.7 L489.4,338.7 L490.4,338.7 L491.4,338.8 L492.1,338.8 L492.4,338.8 L493.4,338.8 L494.4,338.9 L495.4,338.9 L496.4,338.9 L497.4,338.9 L498.4,339.0 L499.4,339.0 L500.4,339.0 L501.4,339.0 L502.4,339.1 L503.4,339.1 L504.4,339.1 L505.4,339.1 L506.4,339.2 L507.4,339.2 L508.4,339.2 L509.4,339.2 L510.4,339.2 L511.4,339.3 L512.4,339.3 L513.4,339.3 L514.4,339.3 L515.4,339.3 L516.4,339.3 L517.4,339.4 L518.4,339.4 L519.4,339.4 L520.4,339.4 L521.4,339.4 L522.4,339.5 L523.4,339.5 L524.4,339.5 L525.3,339.5 L525.4,339.5 L526.4,339.5 L527.4,339.5 L528.4,339.5 L529.4,339.6 L530.4,339.6 L531.4,339.6 L532.4,339.6 L533.4,339.6 L534.4,339.6 L535.4,339.6 L536.4,339.7 L537.4,339.7 L538.4,339.7 L539.4,339.7 L539.6,339.7" fill="none" stroke="#ff0000" stroke-width="1.75" stroke-linejoin="round" clip-path="url(#c)"/>
<rect x="66.3" y="379.0" width="6.4" height="6.4" fill="none" stroke="#ff0000" stroke-width="1.6"/>
<rect x="79.7" y="379.8" width="6.4" height="6.4" fill="none" stroke="#ff0000" stroke-width="1.6"/>
<rect x="111.5" y="382.0" width="6.4" height="6.4" fill="none" stroke="#ff0000" stroke-width="1.6"/>
<rect x="143.3" y="380.6" width="6.4" height="6.4" fill="none" stroke="#ff0000" stroke-width="1.6"/>
<rect x="175.0" y="190.5" width="6.4" height="6.4" fill="none" stroke="#ff0000" stroke-width="1.6"/>
<rect x="206.6" y="278.5" width="6.4" height="6.4" fill="none" stroke="#ff0000" stroke-width="1.6"/>
<rect x="237.9" y="302.0" width="6.4" height="6.4" fill="none" stroke="#ff0000" stroke-width="1.6"/>
<rect x="269.3" y="313.4" width="6.4" height="6.4" fill="none" stroke="#ff0000" stroke-width="1.6"/>
<rect x="300.9" y="320.4" width="6.4" height="6.4" fill="none" stroke="#ff0000" stroke-width="1.6"/>
<rect x="332.1" y="325.5" width="6.4" height="6.4" fill="none" stroke="#ff0000" stroke-width="1.6"/>
<rect x="363.3" y="328.8" width="6.4" height="6.4" fill="none" stroke="#ff0000" stroke-width="1.6"/>
<rect x="394.4" y="331.4" width="6.4" height="6.4" fill="none" stroke="#ff0000" stroke-width="1.6"/>
<rect x="425.8" y="333.1" width="6.4" height="6.4" fill="none" stroke="#ff0000" stroke-width="1.6"/>
<rect x="456.8" y="334.2" width="6.4" height="6.4" fill="none" stroke="#ff0000" stroke-width="1.6"/>
<rect x="488.9" y="335.6" width="6.4" height="6.4" fill="none" stroke="#ff0000" stroke-width="1.6"/>
<rect x="522.1" y="336.3" width="6.4" height="6.4" fill="none" stroke="#ff0000" stroke-width="1.6"/>
<path d="M69.5,372.8 L70.4,373.3 L71.3,373.8 L72.2,374.3 L73.1,374.8 L74.0,375.2 L74.9,375.7 L75.8,376.1 L76.7,376.5 L77.6,376.9 L78.6,377.2 L79.5,377.6 L80.4,377.9 L81.4,378.2 L82.3,378.5 L82.9,378.6 L83.3,378.7 L84.2,378.9 L85.2,379.1 L86.2,379.3 L87.1,379.5 L88.1,379.7 L89.1,379.8 L90.1,380.0 L91.1,380.2 L92.1,380.3 L93.1,380.4 L94.1,380.6 L95.1,380.7 L96.1,380.8 L97.1,381.0 L98.1,381.1 L99.1,381.2 L100.0,381.3 L100.1,381.3 L101.1,381.4 L102.1,381.5 L103.1,381.7 L104.1,381.8 L105.1,381.9 L106.1,382.0 L107.0,382.1 L108.0,382.2 L109.0,382.3 L110.0,382.4 L111.0,382.4 L112.0,382.5 L113.0,382.5 L114.0,382.6 L114.7,382.6 L115.0,382.6 L116.0,382.6 L117.0,382.6 L118.0,382.7 L119.0,382.7 L120.0,382.7 L121.0,382.7 L122.0,382.7 L123.0,382.7 L124.0,382.8 L125.0,382.8 L126.0,382.8 L127.0,382.8 L128.0,382.8 L129.0,382.8 L130.0,382.8 L131.0,382.8 L132.0,382.8 L133.0,382.8 L134.0,382.9 L135.0,382.9 L136.0,382.9 L137.0,382.9 L138.0,382.9 L139.0,382.9 L140.0,382.9 L141.0,382.9 L142.0,382.9 L143.0,382.9 L144.0,382.9 L145.0,382.9 L146.0,382.9 L146.5,382.9 L147.0,382.9 L148.0,382.9 L149.0,382.9 L150.0,382.9 L151.0,382.9 L152.0,382.9 L153.0,382.9 L154.0,382.9 L155.0,382.9 L156.0,382.9 L157.0,382.9 L158.0,382.9 L159.0,382.9 L160.0,382.9 L161.0,382.8 L162.0,382.8 L163.0,382.8 L164.0,382.8 L165.0,382.8 L166.0,382.8 L167.0,382.8 L168.0,382.8 L169.0,382.8 L170.0,382.8 L171.0,382.8 L172.0,382.8 L173.0,382.7 L174.0,382.7 L175.0,382.7 L176.0,382.7 L177.0,382.7 L178.0,382.7 L178.1,382.7 L179.0,382.7 L180.0,382.7 L181.0,382.7 L182.0,382.7 L183.0,382.6 L184.0,382.6 L185.0,382.6 L186.0,382.6 L187.0,382.6 L188.0,382.6 L189.0,382.6 L190.0,382.5 L191.0,382.5 L192.0,382.5 L193.0,382.5 L194.0,382.5 L195.0,382.4 L196.0,382.4 L197.0,382.4 L198.0,382.4 L199.0,382.3 L200.0,382.3 L201.0,382.3 L202.0,382.3 L203.0,382.2 L204.0,382.2 L205.0,382.2 L206.0,382.1 L207.0,382.1 L208.0,382.1 L209.0,382.0 L209.4,382.0 L210.0,382.0 L211.0,381.9 L212.0,381.9 L213.0,381.8 L214.0,381.7 L215.0,381.7 L216.0,381.6 L217.0,381.5 L218.0,381.4 L219.0,381.3 L220.0,381.2 L221.0,381.0 L222.0,380.9 L223.0,380.8 L224.0,380.7 L224.9,380.5 L225.0,380.5 L225.9,380.3 L226.9,380.2 L227.9,379.9 L228.9,379.7 L229.9,379.4 L230.9,379.1 L231.8,378.8 L232.8,378.4 L233.7,378.1 L234.6,377.7 L235.0,377.5 L235.4,377.3 L236.3,376.8 L237.2,376.3 L238.1,375.7 L238.9,375.0 L239.7,374.3 L240.4,373.6 L241.0,372.8 L241.2,372.5 L241.5,372.1 L241.9,371.2 L242.3,370.3 L242.7,369.4 L243.0,368.4 L243.3,367.4 L243.6,366.4 L243.9,365.4 L244.0,365.0 L244.1,364.5 L244.4,363.5 L244.6,362.5 L244.8,361.6 L245.0,360.6 L245.2,359.6 L245.3,358.6 L245.3,358.5 L245.4,357.6 L245.5,356.6 L245.5,355.6 L245.6,354.6 L245.7,353.6 L245.7,352.6 L245.8,351.6 L245.9,350.6 L245.9,349.6 L246.0,348.6 L246.0,347.6 L246.0,346.6 L246.1,345.6 L246.1,344.6 L246.2,343.6 L246.2,342.6 L246.2,341.6 L246.3,340.6 L246.3,340.0 L246.3,339.6 L246.4,338.6 L246.4,337.6 L246.4,336.6 L246.5,335.6 L246.5,334.6 L246.5,333.6 L246.6,332.6 L246.6,331.6 L246.6,330.6 L246.7,329.6 L246.7,328.6 L246.7,327.6 L246.8,326.6 L246.8,325.6 L246.8,324.6 L246.8,323.6 L246.9,322.6 L246.9,321.6 L246.9,320.6 L247.0,319.6 L247.0,318.6 L247.0,317.6 L247.0,316.6 L247.1,315.6 L247.1,314.6 L247.1,313.6 L247.1,312.6 L247.2,311.6 L247.2,310.6 L247.2,309.6 L247.3,308.6 L247.3,307.6 L247.3,306.6 L247.3,305.6 L247.4,304.6 L247.4,303.6 L247.4,302.6 L247.5,301.6 L247.5,300.6 L247.5,300.0 L247.5,299.6 L247.5,298.6 L247.6,297.6 L247.6,296.6 L247.6,295.6 L247.7,294.6 L247.7,293.6 L247.7,292.6 L247.8,291.6 L247.8,290.6 L247.8,289.6 L247.9,288.6 L247.9,287.6 L247.9,286.6 L248.0,285.6 L248.0,284.6 L248.0,283.6 L248.0,282.6 L248.1,281.6 L248.1,280.6 L248.1,279.6 L248.2,278.6 L248.2,277.6 L248.2,276.6 L248.3,275.6 L248.3,274.6 L248.3,273.6 L248.3,272.6 L248.4,271.6 L248.4,270.7 L248.4,270.0 L248.4,269.7 L248.4,268.7 L248.5,267.7 L248.5,266.7 L248.5,265.7 L248.5,264.7 L248.5,263.7 L248.6,262.7 L248.6,261.7 L248.6,260.7 L248.6,259.7 L248.6,258.7 L248.7,257.7 L248.7,256.7 L248.7,255.7 L248.7,254.7 L248.7,253.7 L248.8,252.7 L248.8,251.7 L248.8,250.7 L248.8,249.7 L248.8,248.7 L248.9,247.7 L248.9,246.7 L248.9,245.7 L248.9,244.7 L248.9,243.7 L248.9,242.7 L249.0,241.7 L249.0,240.7 L249.0,239.7 L249.0,238.7 L249.0,237.7 L249.0,236.7 L249.0,235.7 L249.1,234.7 L249.1,233.7 L249.1,232.7 L249.1,231.7 L249.1,230.7 L249.1,229.7 L249.2,228.7 L249.2,227.7 L249.2,226.7 L249.2,225.7 L249.2,224.7 L249.2,223.7 L249.2,222.7 L249.3,221.7 L249.3,220.7 L249.3,219.7 L249.3,218.7 L249.3,217.7 L249.3,216.7 L249.3,215.7 L249.4,214.7 L249.4,213.7 L249.4,212.7 L249.4,211.7 L249.4,210.7 L249.4,209.7 L249.5,208.7 L249.5,207.7 L249.5,206.7 L249.5,205.7 L249.5,204.7 L249.5,203.7 L249.5,202.7 L249.6,201.7 L249.6,200.7 L249.6,199.7 L249.6,198.7 L249.6,197.7 L249.6,196.7 L249.7,195.7 L249.7,194.7 L249.7,193.7 L249.7,192.7 L249.7,191.7 L249.8,190.7 L249.8,189.7 L249.8,188.7 L249.8,187.7 L249.8,186.7 L249.9,185.7 L249.9,184.7 L249.9,183.7 L249.9,182.7 L249.9,181.7 L250.0,180.7 L250.0,179.7 L250.0,178.7 L250.0,177.7 L250.0,176.7 L250.1,175.7 L250.1,174.7 L250.1,173.7 L250.1,172.7 L250.2,171.7 L250.2,170.7 L250.2,170.0 L250.2,169.7 L250.2,168.7 L250.3,167.7 L250.3,166.7 L250.3,165.7 L250.3,164.7 L250.4,163.7 L250.4,162.7 L250.4,161.7 L250.4,160.7 L250.5,159.7 L250.5,158.7 L250.5,157.7 L250.6,156.7 L250.6,155.7 L250.6,154.7 L250.6,153.7 L250.7,152.7 L250.7,151.7 L250.7,150.7 L250.8,149.7 L250.8,148.7 L250.8,147.7 L250.9,146.7 L250.9,145.7 L250.9,144.7 L251.0,143.7 L251.0,142.7 L251.0,141.7 L251.1,140.7 L251.1,139.7 L251.2,138.7 L251.2,137.7 L251.2,136.7 L251.3,135.7 L251.3,134.7 L251.4,133.7 L251.4,132.7 L251.5,131.7 L251.5,130.7 L251.6,129.7 L251.6,128.7 L251.7,127.7 L251.7,126.7 L251.8,125.7 L251.8,125.0 L251.8,124.7 L251.9,123.6 L251.9,122.4 L252.0,121.2 L252.1,119.9 L252.2,118.5 L252.3,117.2 L252.3,115.9 L252.4,114.7 L252.5,113.5 L252.6,112.4 L252.7,111.4 L252.8,110.5 L252.9,109.8 L253.0,109.3 L253.1,109.0 L253.2,108.9 L253.2,108.9 L253.3,109.1 L253.4,109.5 L253.5,110.2 L253.7,111.1 L253.8,112.1 L253.9,113.3 L254.0,114.5 L254.1,115.8 L254.3,117.1 L254.4,118.4 L254.5,119.7 L254.6,120.9 L254.7,122.0 L254.7,122.0 L254.8,123.0 L254.9,123.9 L255.0,124.9 L255.1,125.9 L255.2,126.9 L255.3,127.9 L255.3,128.9 L255.4,129.9 L255.5,130.9 L255.6,131.9 L255.7,132.9 L255.8,133.9 L255.8,134.9 L255.9,135.9 L256.0,136.9 L256.1,137.9 L256.2,138.9 L256.3,139.9 L256.4,140.9 L256.5,141.9 L256.5,142.0 L256.6,142.9 L256.7,143.9 L256.8,144.9 L256.9,145.9 L257.0,146.9 L257.1,147.8 L257.2,148.8 L257.4,149.8 L257.5,150.8 L257.6,151.8 L257.7,152.8 L257.8,153.8 L258.0,154.8 L258.1,155.8 L258.2,156.8 L258.3,157.8 L258.5,158.8 L258.6,159.8 L258.7,160.8 L258.9,161.7 L259.0,162.7 L259.2,163.7 L259.3,164.7 L259.5,165.7 L259.5,166.0 L259.6,166.7 L259.8,167.7 L259.9,168.7 L260.1,169.6 L260.3,170.6 L260.4,171.6 L260.6,172.6 L260.8,173.6 L261.0,174.5 L261.2,175.5 L261.4,176.5 L261.6,177.5 L261.8,178.5 L262.0,179.5 L262.2,180.4 L262.4,181.4 L262.6,182.4 L262.8,183.4 L263.1,184.3 L263.3,185.3 L263.5,186.3 L263.7,187.3 L263.9,188.3 L264.1,189.2 L264.3,190.2 L264.5,191.2 L264.7,192.0 L264.7,192.2 L264.9,193.2 L265.1,194.1 L265.4,195.1 L265.6,196.1 L265.8,197.1 L266.0,198.0 L266.2,199.0 L266.4,200.0 L266.6,201.0 L266.8,202.0 L267.0,202.9 L267.2,203.9 L267.5,204.9 L267.7,205.9 L267.9,206.8 L268.1,207.8 L268.3,208.8 L268.5,209.8 L268.8,210.7 L269.0,211.7 L269.2,212.7 L269.4,213.7 L269.7,214.6 L269.9,215.6 L270.1,216.6 L270.4,217.6 L270.5,218.0 L270.6,218.5 L270.9,219.5 L271.1,220.5 L271.4,221.4 L271.6,222.4 L271.9,223.4 L272.2,224.3 L272.5,225.3 L272.5,225.4 L272.8,226.2 L273.1,227.2 L273.4,228.1 L273.8,229.0 L274.1,230.0 L274.5,230.9 L274.9,231.8 L275.2,232.8 L275.6,233.7 L276.0,234.6 L276.4,235.5 L276.8,236.4 L277.3,237.3 L277.7,238.3 L278.1,239.2 L278.5,240.1 L278.9,241.0 L279.3,241.9 L279.8,242.8 L280.2,243.7 L280.4,244.2 L280.6,244.6 L281.0,245.5 L281.4,246.5 L281.8,247.4 L282.2,248.3 L282.7,249.2 L283.1,250.2 L283.5,251.1 L283.9,252.0 L284.3,252.9 L284.8,253.8 L285.2,254.7 L285.7,255.6 L286.2,256.5 L286.6,257.3 L287.1,258.2 L287.6,259.0 L288.1,259.9 L288.2,260.0 L288.7,260.7 L289.2,261.5 L289.8,262.3 L290.3,263.2 L290.9,264.0 L291.5,264.8 L292.1,265.6 L292.7,266.4 L293.4,267.2 L294.0,268.0 L294.7,268.8 L295.3,269.5 L296.0,270.3 L296.7,271.1 L297.3,271.8 L298.0,272.6 L298.7,273.3 L299.4,274.0 L300.2,274.7 L300.9,275.4 L301.6,276.1 L302.3,276.8 L303.0,277.5 L303.8,278.1 L304.2,278.5 L304.5,278.8 L305.2,279.4 L306.0,280.0 L306.7,280.6 L307.5,281.2 L308.3,281.8 L309.1,282.5 L309.9,283.0 L310.7,283.6 L311.5,284.2 L312.3,284.8 L313.1,285.4 L313.9,286.0 L314.8,286.5 L315.6,287.1 L316.5,287.6 L317.3,288.2 L318.2,288.7 L319.0,289.3 L319.9,289.8 L320.7,290.3 L321.6,290.9 L322.5,291.4 L323.4,291.9 L324.3,292.4 L325.1,292.9 L326.0,293.4 L326.9,293.9 L327.8,294.4 L328.7,294.8 L329.6,295.3 L330.5,295.8 L331.4,296.2 L332.3,296.7 L333.2,297.1 L334.0,297.6 L334.9,298.0 L335.3,298.2 L335.8,298.5 L336.7,298.9 L337.6,299.3 L338.5,299.7 L339.4,300.1 L340.4,300.5 L341.3,300.9 L342.2,301.3 L343.2,301.6 L344.1,302.0 L345.0,302.4 L346.0,302.7 L346.9,303.1 L347.8,303.4 L348.8,303.8 L349.7,304.1 L350.0,304.2 L350.7,304.4 L351.6,304.8 L352.5,305.1 L353.5,305.4 L354.4,305.8 L355.4,306.1 L356.3,306.4 L357.3,306.7 L358.2,307.1 L359.2,307.4 L360.1,307.7 L361.1,308.0 L362.1,308.3 L363.0,308.5 L364.0,308.8 L364.9,309.1 L365.9,309.3 L366.5,309.5 L366.9,309.6 L367.8,309.8 L368.8,310.1 L369.8,310.3 L370.7,310.6 L371.7,310.8 L372.7,311.0 L373.7,311.3 L374.6,311.5 L375.6,311.7 L376.6,311.9 L377.6,312.1 L378.5,312.3 L379.5,312.5 L380.5,312.8 L381.5,313.0 L382.5,313.2 L383.4,313.4 L384.4,313.6 L385.4,313.7 L386.4,313.9 L387.4,314.1 L388.4,314.3 L389.3,314.5 L390.3,314.7 L391.3,314.9 L392.3,315.1 L393.3,315.2 L394.3,315.4 L395.2,315.6 L396.2,315.8 L397.2,315.9 L397.6,316.0 L398.2,316.1 L399.2,316.3 L400.2,316.4 L401.1,316.6 L402.1,316.8 L403.1,317.0 L404.1,317.1 L405.1,317.3 L406.1,317.5 L407.1,317.6 L408.1,317.8 L409.0,318.0 L410.0,318.1 L411.0,318.3 L412.0,318.4 L413.0,318.6 L414.0,318.7 L415.0,318.9 L416.0,319.0 L417.0,319.2 L417.9,319.3 L418.9,319.5 L419.9,319.6 L420.9,319.7 L421.9,319.9 L422.9,320.0 L423.9,320.1 L424.9,320.2 L425.9,320.4 L426.9,320.5 L427.9,320.6 L428.9,320.7 L429.0,320.7 L429.8,320.8 L430.8,320.9 L431.8,321.0 L432.8,321.1 L433.8,321.2 L434.8,321.3 L435.8,321.3 L436.8,321.4 L437.8,321.5 L438.8,321.6 L439.8,321.7 L440.8,321.8 L441.8,321.8 L442.8,321.9 L443.8,322.0 L444.8,322.1 L445.8,322.1 L446.8,322.2 L447.8,322.3 L448.8,322.3 L449.8,322.4 L450.8,322.5 L451.8,322.5 L452.8,322.6 L453.8,322.7 L454.8,322.8 L455.8,322.8 L456.8,322.9 L457.8,323.0 L458.8,323.0 L459.8,323.1 L460.0,323.1 L460.8,323.2 L461.8,323.2 L462.8,323.3 L463.8,323.3 L464.8,323.4 L465.8,323.5 L466.7,323.5 L467.7,323.6 L468.7,323.7 L469.7,323.7 L470.7,323.8 L471.7,323.9 L472.7,323.9 L473.7,324.0 L474.7,324.0 L475.7,324.1 L476.7,324.1 L477.7,324.2 L478.7,324.2 L479.7,324.3 L480.0,324.3 L480.7,324.3 L481.7,324.4 L482.7,324.4 L483.7,324.5 L484.7,324.5 L485.7,324.6 L486.7,324.6 L487.7,324.6 L488.7,324.7 L489.7,324.7 L490.7,324.8 L491.7,324.8 L492.1,324.8 L492.7,324.8 L493.7,324.9 L494.7,324.9 L495.7,324.9 L496.7,325.0 L497.7,325.0 L498.7,325.0 L499.7,325.0 L500.7,325.1 L501.7,325.1 L502.7,325.1 L503.7,325.2 L504.7,325.2 L505.7,325.2 L506.7,325.2 L507.7,325.3 L508.7,325.3 L509.7,325.3 L510.7,325.3 L511.7,325.4 L512.7,325.4 L513.7,325.4 L514.7,325.4 L515.7,325.5 L516.7,325.5 L517.7,325.5 L518.7,325.5 L519.7,325.6 L520.7,325.6 L521.7,325.6 L522.7,325.6 L523.7,325.7 L524.7,325.7 L525.3,325.7 L525.7,325.7 L526.7,325.7 L527.7,325.8 L528.7,325.8 L529.7,325.8 L530.7,325.8 L531.7,325.8 L532.7,325.9 L533.7,325.9 L534.7,325.9 L535.7,325.9 L536.7,325.9 L537.7,326.0 L538.7,326.0 L539.6,326.0" fill="none" stroke="#0000ff" stroke-width="1.75" stroke-linejoin="round" clip-path="url(#c)"/>
<path d="M69.5,367.0 L74.5,376.0 L64.5,376.0 Z" fill="none" stroke="#0000ff" stroke-width="1.6" stroke-linejoin="miter"/>
<path d="M82.9,372.8 L87.9,381.8 L77.9,381.8 Z" fill="none" stroke="#0000ff" stroke-width="1.6" stroke-linejoin="miter"/>
<path d="M114.7,376.8 L119.7,385.8 L109.7,385.8 Z" fill="none" stroke="#0000ff" stroke-width="1.6" stroke-linejoin="miter"/>
<path d="M146.5,377.1 L151.5,386.1 L141.5,386.1 Z" fill="none" stroke="#0000ff" stroke-width="1.6" stroke-linejoin="miter"/>
<path d="M178.1,376.9 L183.1,385.9 L173.1,385.9 Z" fill="none" stroke="#0000ff" stroke-width="1.6" stroke-linejoin="miter"/>
<path d="M209.4,376.2 L214.4,385.2 L204.4,385.2 Z" fill="none" stroke="#0000ff" stroke-width="1.6" stroke-linejoin="miter"/>
<path d="M241.2,366.7 L246.2,375.7 L236.2,375.7 Z" fill="none" stroke="#0000ff" stroke-width="1.6" stroke-linejoin="miter"/>
<path d="M272.5,219.6 L277.5,228.6 L267.5,228.6 Z" fill="none" stroke="#0000ff" stroke-width="1.6" stroke-linejoin="miter"/>
<path d="M304.2,272.7 L309.2,281.7 L299.2,281.7 Z" fill="none" stroke="#0000ff" stroke-width="1.6" stroke-linejoin="miter"/>
<path d="M335.3,292.4 L340.3,301.4 L330.3,301.4 Z" fill="none" stroke="#0000ff" stroke-width="1.6" stroke-linejoin="miter"/>
<path d="M366.5,303.7 L371.5,312.7 L361.5,312.7 Z" fill="none" stroke="#0000ff" stroke-width="1.6" stroke-linejoin="miter"/>
<path d="M397.6,310.2 L402.6,319.2 L392.6,319.2 Z" fill="none" stroke="#0000ff" stroke-width="1.6" stroke-linejoin="miter"/>
<path d="M429.0,314.9 L434.0,323.9 L424.0,323.9 Z" fill="none" stroke="#0000ff" stroke-width="1.6" stroke-linejoin="miter"/>
<path d="M460.0,317.3 L465.0,326.3 L455.0,326.3 Z" fill="none" stroke="#0000ff" stroke-width="1.6" stroke-linejoin="miter"/>
<path d="M492.1,319.0 L497.1,328.0 L487.1,328.0 Z" fill="none" stroke="#0000ff" stroke-width="1.6" stroke-linejoin="miter"/>
<path d="M525.3,319.9 L530.3,328.9 L520.3,328.9 Z" fill="none" stroke="#0000ff" stroke-width="1.6" stroke-linejoin="miter"/>
<path d="M69.6,323.5 L69.7,324.5 L69.8,325.5 L70.0,326.5 L70.1,327.5 L70.3,328.5 L70.4,329.5 L70.6,330.5 L70.8,331.4 L71.0,332.4 L71.2,333.4 L71.4,334.4 L71.6,335.3 L71.8,336.0 L71.9,336.3 L72.1,337.3 L72.4,338.3 L72.6,339.3 L72.9,340.2 L73.2,341.2 L73.5,342.2 L73.8,343.2 L74.2,344.1 L74.6,345.0 L75.0,345.9 L75.3,346.5 L75.4,346.7 L75.9,347.5 L76.5,348.3 L77.1,349.0 L77.8,349.8 L78.5,350.5 L79.2,351.2 L80.0,351.9 L80.8,352.6 L81.6,353.3 L82.3,353.9 L82.8,354.3 L83.1,354.6 L83.8,355.3 L84.6,355.9 L85.4,356.6 L86.2,357.2 L87.0,357.9 L87.8,358.5 L88.6,359.1 L89.4,359.7 L90.2,360.3 L91.1,360.8 L91.9,361.3 L92.8,361.7 L93.5,362.1 L93.7,362.2 L94.5,362.6 L95.5,362.9 L96.4,363.3 L97.3,363.6 L98.3,363.9 L99.2,364.3 L100.2,364.5 L101.2,364.8 L102.2,365.1 L103.1,365.4 L104.0,365.6 L104.1,365.6 L105.1,365.9 L106.0,366.1 L107.0,366.4 L108.0,366.6 L109.0,366.8 L109.9,367.0 L110.9,367.2 L111.9,367.4 L112.9,367.6 L113.9,367.8 L114.8,368.0 L114.9,368.0 L115.8,368.2 L116.8,368.3 L117.8,368.5 L118.8,368.7 L119.8,368.8 L120.8,369.0 L121.7,369.1 L122.7,369.3 L123.7,369.4 L124.7,369.6 L125.7,369.7 L126.7,369.9 L127.7,370.0 L128.7,370.1 L129.7,370.3 L130.7,370.4 L131.7,370.5 L132.6,370.6 L133.6,370.8 L134.0,370.8 L134.6,370.9 L135.6,371.0 L136.6,371.1 L137.6,371.2 L138.6,371.3 L139.6,371.4 L140.6,371.5 L141.6,371.6 L142.6,371.7 L143.6,371.8 L144.6,371.9 L145.6,371.9 L146.5,372.0 L146.6,372.0 L147.6,372.1 L148.6,372.1 L149.6,372.2 L150.6,372.3 L151.6,372.3 L152.6,372.4 L153.6,372.5 L154.6,372.5 L155.6,372.6 L156.6,372.7 L157.6,372.7 L158.6,372.8 L159.6,372.8 L160.6,372.9 L161.6,373.0 L162.6,373.0 L163.5,373.1 L164.5,373.1 L165.5,373.2 L166.5,373.2 L167.5,373.3 L168.5,373.3 L169.5,373.3 L170.5,373.4 L171.5,373.4 L172.5,373.5 L173.5,373.5 L174.5,373.5 L175.5,373.5 L176.5,373.6 L177.5,373.6 L177.8,373.6 L178.5,373.6 L179.5,373.6 L180.5,373.7 L181.5,373.7 L182.5,373.7 L183.5,373.7 L184.5,373.7 L185.5,373.7 L186.5,373.7 L187.5,373.7 L188.5,373.8 L189.5,373.8 L190.5,373.8 L191.5,373.8 L192.5,373.8 L193.5,373.8 L194.5,373.8 L195.5,373.8 L196.5,373.8 L197.5,373.8 L198.5,373.8 L199.5,373.9 L200.5,373.9 L201.5,373.9 L202.5,373.9 L203.5,373.9 L204.5,373.9 L205.5,373.9 L206.5,373.9 L207.5,374.0 L208.5,374.0 L209.4,374.0 L209.5,374.0 L210.5,374.0 L211.5,374.1 L212.5,374.1 L213.5,374.1 L214.5,374.2 L215.5,374.3 L216.5,374.3 L217.5,374.4 L218.5,374.5 L219.5,374.5 L220.5,374.6 L221.5,374.7 L222.5,374.8 L223.5,374.8 L224.5,374.9 L225.5,375.0 L226.5,375.1 L227.5,375.2 L228.5,375.2 L229.5,375.3 L230.5,375.4 L231.5,375.4 L232.5,375.5 L233.5,375.6 L234.5,375.6 L235.5,375.7 L236.5,375.7 L237.5,375.7 L238.5,375.8 L239.5,375.8 L240.5,375.8 L241.2,375.8 L241.5,375.8 L242.5,375.8 L243.5,375.7 L244.5,375.6 L245.5,375.5 L246.5,375.4 L247.5,375.3 L248.5,375.2 L249.5,375.2 L250.0,375.2 L250.5,375.2 L251.5,375.2 L252.5,375.3 L253.5,375.4 L254.5,375.5 L255.4,375.7 L256.4,375.8 L257.4,375.9 L258.4,375.9 L259.4,376.0 L260.0,376.0 L260.4,376.0 L261.4,376.0 L262.4,376.0 L263.4,376.0 L264.4,375.9 L265.4,375.9 L266.4,375.9 L267.4,375.9 L268.4,375.8 L269.4,375.8 L270.4,375.8 L271.4,375.8 L272.4,375.8 L272.5,375.8 L273.4,375.8 L274.4,375.8 L275.4,375.8 L276.4,375.9 L277.4,375.9 L278.4,375.9 L279.4,375.9 L280.4,376.0 L281.4,376.0 L282.4,376.1 L283.4,376.1 L284.4,376.2 L285.4,376.2 L286.4,376.3 L287.4,376.3 L288.4,376.4 L289.4,376.5 L290.4,376.5 L291.4,376.6 L292.4,376.6 L293.4,376.7 L294.4,376.7 L295.4,376.8 L296.4,376.8 L297.4,376.9 L298.4,376.9 L299.4,376.9 L300.4,377.0 L301.4,377.0 L302.4,377.0 L303.4,377.0 L304.2,377.0 L304.4,377.0 L305.4,377.0 L306.4,377.0 L307.4,377.0 L308.4,377.0 L309.4,376.9 L310.4,376.9 L311.4,376.9 L312.4,376.9 L313.4,376.8 L314.4,376.8 L315.4,376.7 L316.4,376.7 L317.4,376.6 L318.4,376.6 L319.4,376.5 L320.4,376.5 L321.4,376.4 L322.4,376.4 L323.4,376.3 L324.4,376.2 L325.4,376.2 L326.4,376.1 L327.4,376.1 L328.4,376.0 L329.4,375.9 L330.4,375.8 L331.4,375.8 L332.4,375.7 L333.4,375.6 L334.4,375.6 L335.2,375.5 L335.4,375.5 L336.4,375.4 L337.4,375.3 L338.4,375.3 L339.4,375.2 L340.4,375.1 L341.4,375.0 L342.4,374.9 L343.4,374.8 L344.4,374.7 L345.4,374.6 L346.4,374.5 L347.4,374.3 L348.4,374.2 L349.4,374.1 L350.4,374.0 L351.4,373.8 L352.4,373.7 L353.4,373.5 L354.4,373.4 L355.4,373.2 L356.4,373.1 L357.4,372.9 L358.4,372.8 L359.4,372.6 L360.3,372.4 L361.3,372.2 L362.3,372.0 L363.2,371.8 L364.2,371.6 L365.1,371.4 L366.1,371.2 L366.6,371.1 L367.0,371.0 L368.0,370.7 L368.9,370.5 L369.9,370.2 L370.8,369.8 L371.7,369.5 L372.7,369.1 L373.6,368.7 L374.5,368.3 L375.5,367.9 L376.4,367.4 L377.3,367.0 L378.2,366.5 L379.1,366.0 L380.0,365.5 L380.9,365.0 L381.7,364.5 L382.6,364.0 L383.5,363.5 L384.3,362.9 L385.0,362.5 L385.1,362.4 L385.9,361.9 L386.8,361.3 L387.6,360.7 L388.3,360.1 L389.1,359.4 L389.9,358.8 L390.6,358.1 L391.4,357.4 L392.1,356.8 L392.9,356.1 L393.0,356.0 L393.7,355.4 L394.5,354.8 L395.3,354.1 L396.1,353.5 L396.8,352.7 L397.4,352.0 L397.6,351.6 L397.8,351.2 L398.2,350.3 L398.5,349.4 L398.8,348.5 L399.1,347.5 L399.3,346.5 L399.5,345.5 L399.7,344.4 L399.9,343.4 L400.0,343.0 L400.1,342.5 L400.3,341.5 L400.4,340.5 L400.6,339.5 L400.7,338.5 L400.9,337.5 L401.0,336.5 L401.1,335.5 L401.2,334.5 L401.3,333.5 L401.4,332.5 L401.5,332.0 L401.5,331.5 L401.6,330.6 L401.7,329.6 L401.8,328.6 L401.9,327.6 L402.0,326.6 L402.0,325.6 L402.1,324.6 L402.2,323.6 L402.2,322.6 L402.3,321.6 L402.4,320.6 L402.4,319.6 L402.5,318.6 L402.6,317.6 L402.6,316.6 L402.7,315.6 L402.7,314.6 L402.8,313.6 L402.8,312.6 L402.9,311.6 L403.0,310.6 L403.0,310.0 L403.0,309.6 L403.1,308.6 L403.1,307.6 L403.2,306.6 L403.3,305.6 L403.3,304.6 L403.4,303.6 L403.4,302.6 L403.5,301.6 L403.5,300.6 L403.6,299.6 L403.6,298.6 L403.7,297.6 L403.8,296.6 L403.8,295.6 L403.9,294.6 L403.9,293.6 L404.0,292.6 L404.0,291.6 L404.1,290.6 L404.1,289.6 L404.2,288.6 L404.2,287.6 L404.3,286.6 L404.3,285.6 L404.4,284.6 L404.4,283.6 L404.5,282.6 L404.5,281.6 L404.6,280.6 L404.6,280.0 L404.6,279.6 L404.7,278.6 L404.7,277.6 L404.8,276.6 L404.8,275.6 L404.9,274.6 L404.9,273.6 L405.0,272.7 L405.0,271.7 L405.1,270.7 L405.1,269.7 L405.2,268.7 L405.2,267.7 L405.3,266.7 L405.3,265.7 L405.4,264.7 L405.4,263.7 L405.5,262.7 L405.5,261.7 L405.6,260.7 L405.6,259.7 L405.7,258.7 L405.7,257.7 L405.8,256.7 L405.8,255.7 L405.9,254.7 L405.9,253.7 L405.9,252.7 L406.0,251.7 L406.0,250.7 L406.1,249.7 L406.1,248.7 L406.2,247.7 L406.2,246.7 L406.3,245.7 L406.3,244.7 L406.4,243.7 L406.4,242.7 L406.5,241.7 L406.5,240.7 L406.6,239.7 L406.6,238.7 L406.7,237.7 L406.7,236.7 L406.7,235.7 L406.8,234.7 L406.8,233.7 L406.9,232.7 L406.9,231.7 L407.0,230.7 L407.0,230.0 L407.0,229.7 L407.1,228.7 L407.1,227.7 L407.1,226.7 L407.2,225.7 L407.2,224.7 L407.3,223.7 L407.3,222.7 L407.4,221.7 L407.4,220.7 L407.4,219.7 L407.5,218.7 L407.5,217.7 L407.6,216.7 L407.6,215.7 L407.6,214.7 L407.7,213.7 L407.7,212.7 L407.7,211.7 L407.8,210.7 L407.8,209.7 L407.9,208.7 L407.9,207.7 L407.9,206.7 L408.0,205.7 L408.0,204.7 L408.1,203.7 L408.1,202.7 L408.1,201.7 L408.2,200.7 L408.2,199.7 L408.3,198.7 L408.3,197.7 L408.3,196.7 L408.4,195.7 L408.4,194.7 L408.5,193.7 L408.5,192.7 L408.5,191.7 L408.6,190.7 L408.6,189.7 L408.7,188.7 L408.7,187.7 L408.8,186.7 L408.8,185.7 L408.9,184.7 L408.9,183.7 L409.0,182.7 L409.0,181.7 L409.1,180.7 L409.1,180.0 L409.1,179.7 L409.2,178.7 L409.2,177.7 L409.3,176.7 L409.3,175.7 L409.4,174.8 L409.4,173.8 L409.5,172.8 L409.6,171.8 L409.6,170.8 L409.7,169.8 L409.7,168.8 L409.8,167.8 L409.9,166.8 L409.9,165.8 L410.0,164.8 L410.1,163.8 L410.1,162.8 L410.2,161.8 L410.3,160.8 L410.3,159.8 L410.4,158.8 L410.5,157.8 L410.6,156.8 L410.6,155.8 L410.7,154.8 L410.8,153.8 L410.8,152.8 L410.9,151.8 L411.0,150.8 L411.1,149.8 L411.1,148.8 L411.2,147.8 L411.3,146.8 L411.4,145.8 L411.4,144.8 L411.5,143.8 L411.6,142.8 L411.7,141.8 L411.7,140.8 L411.8,140.0 L411.8,139.8 L411.9,138.8 L412.0,137.8 L412.0,136.8 L412.1,135.8 L412.2,134.8 L412.2,133.8 L412.3,132.8 L412.4,131.8 L412.5,130.8 L412.6,129.8 L412.7,128.8 L412.8,127.9 L412.9,126.9 L413.0,126.0 L413.0,125.9 L413.2,124.7 L413.4,123.5 L413.7,122.2 L414.0,121.2 L414.3,120.5 L414.5,120.4 L414.6,120.4 L415.0,120.9 L415.4,121.9 L415.8,123.1 L416.3,124.3 L416.5,125.0 L416.6,125.3 L416.9,126.2 L417.2,127.2 L417.5,128.1 L417.7,129.1 L418.0,130.1 L418.3,131.0 L418.5,132.0 L418.7,133.0 L419.0,134.0 L419.2,134.9 L419.4,135.9 L419.6,136.9 L419.9,137.9 L420.1,138.8 L420.4,139.8 L420.4,140.0 L420.6,140.8 L420.8,141.8 L421.1,142.7 L421.3,143.7 L421.5,144.7 L421.7,145.7 L422.0,146.6 L422.2,147.6 L422.4,148.6 L422.6,149.6 L422.8,150.5 L423.1,151.5 L423.3,152.5 L423.5,153.5 L423.7,154.5 L423.9,155.5 L424.1,156.4 L424.3,157.4 L424.5,158.4 L424.8,159.4 L425.0,160.4 L425.2,161.3 L425.4,162.3 L425.6,163.3 L425.9,164.3 L426.1,165.2 L426.3,166.2 L426.6,167.2 L426.8,168.1 L427.1,169.1 L427.3,170.1 L427.6,171.0 L427.9,172.0 L428.1,172.9 L428.4,173.9 L428.7,174.8 L429.0,175.8 L429.0,175.8 L429.3,176.7 L429.6,177.7 L429.9,178.6 L430.3,179.5 L430.6,180.5 L431.0,181.4 L431.4,182.3 L431.8,183.3 L432.2,184.2 L432.5,185.1 L432.9,186.0 L433.3,187.0 L433.7,187.9 L434.2,188.8 L434.6,189.7 L435.0,190.6 L435.4,191.5 L435.8,192.5 L436.0,193.0 L436.2,193.4 L436.6,194.3 L437.0,195.2 L437.3,196.1 L437.7,197.1 L438.1,198.0 L438.5,198.9 L438.9,199.9 L439.3,200.8 L439.7,201.7 L440.1,202.6 L440.5,203.5 L441.0,204.4 L441.4,205.3 L441.8,206.2 L442.3,207.1 L442.7,208.0 L443.2,208.9 L443.7,209.8 L443.8,210.0 L444.1,210.6 L444.6,211.5 L445.1,212.3 L445.7,213.2 L446.2,214.0 L446.7,214.9 L447.3,215.7 L447.8,216.6 L448.4,217.4 L448.9,218.3 L449.5,219.1 L450.1,219.9 L450.7,220.8 L451.3,221.6 L451.9,222.4 L452.5,223.2 L453.1,224.0 L453.7,224.8 L454.3,225.6 L455.0,226.4 L455.6,227.1 L456.2,227.9 L456.9,228.7 L457.5,229.4 L458.2,230.2 L458.9,230.9 L459.5,231.6 L460.0,232.1 L460.2,232.3 L460.9,233.0 L461.6,233.7 L462.3,234.4 L463.0,235.1 L463.8,235.8 L464.5,236.5 L465.3,237.1 L466.0,237.8 L466.8,238.4 L467.6,239.1 L468.4,239.7 L469.2,240.4 L470.0,241.0 L470.8,241.6 L471.6,242.2 L472.4,242.7 L473.2,243.3 L474.1,243.9 L474.9,244.4 L475.0,244.5 L475.7,245.0 L476.5,245.5 L477.4,246.0 L478.2,246.5 L479.1,247.0 L480.0,247.5 L480.8,248.0 L481.7,248.5 L482.6,249.0 L483.5,249.5 L484.4,249.9 L485.3,250.4 L486.2,250.8 L487.1,251.3 L488.0,251.7 L489.0,252.1 L489.9,252.5 L490.8,252.9 L491.7,253.2 L492.1,253.4 L492.6,253.6 L493.6,254.0 L494.5,254.3 L495.4,254.7 L496.4,255.0 L497.3,255.4 L498.2,255.7 L499.2,256.0 L500.2,256.3 L501.1,256.6 L502.1,256.9 L503.0,257.2 L504.0,257.5 L505.0,257.8 L505.9,258.0 L506.9,258.3 L507.9,258.5 L508.8,258.8 L509.8,259.0 L510.0,259.0 L510.8,259.2 L511.8,259.4 L512.7,259.6 L513.7,259.7 L514.7,259.9 L515.7,260.1 L516.7,260.3 L517.7,260.4 L518.7,260.6 L519.7,260.7 L520.7,260.9 L521.6,261.0 L522.6,261.1 L523.6,261.2 L524.6,261.3 L525.3,261.4 L525.6,261.4 L526.6,261.5 L527.6,261.6 L528.6,261.7 L529.6,261.7 L530.6,261.8 L531.6,261.9 L532.6,261.9 L533.6,262.0 L534.6,262.1 L535.6,262.1 L536.6,262.1 L537.6,262.2 L538.6,262.2 L539.6,262.2" fill="none" stroke="#ff00ff" stroke-width="1.75" stroke-linejoin="round" clip-path="url(#c)"/>
<path d="M69.6,317.3 L73.7,323.5 L69.6,329.7 L65.5,323.5 Z" fill="none" stroke="#ff00ff" stroke-width="1.6" stroke-linejoin="miter"/>
<path d="M82.8,348.1 L86.8,354.3 L82.8,360.5 L78.7,354.3 Z" fill="none" stroke="#ff00ff" stroke-width="1.6" stroke-linejoin="miter"/>
<path d="M114.9,361.8 L119.0,368.0 L114.9,374.2 L110.8,368.0 Z" fill="none" stroke="#ff00ff" stroke-width="1.6" stroke-linejoin="miter"/>
<path d="M146.5,365.8 L150.6,372.0 L146.5,378.2 L142.4,372.0 Z" fill="none" stroke="#ff00ff" stroke-width="1.6" stroke-linejoin="miter"/>
<path d="M177.8,367.4 L181.9,373.6 L177.8,379.8 L173.7,373.6 Z" fill="none" stroke="#ff00ff" stroke-width="1.6" stroke-linejoin="miter"/>
<path d="M209.4,367.8 L213.5,374.0 L209.4,380.2 L205.3,374.0 Z" fill="none" stroke="#ff00ff" stroke-width="1.6" stroke-linejoin="miter"/>
<path d="M241.2,369.6 L245.3,375.8 L241.2,382.0 L237.1,375.8 Z" fill="none" stroke="#ff00ff" stroke-width="1.6" stroke-linejoin="miter"/>
<path d="M272.5,369.6 L276.6,375.8 L272.5,382.0 L268.4,375.8 Z" fill="none" stroke="#ff00ff" stroke-width="1.6" stroke-linejoin="miter"/>
<path d="M304.2,370.8 L308.3,377.0 L304.2,383.2 L300.1,377.0 Z" fill="none" stroke="#ff00ff" stroke-width="1.6" stroke-linejoin="miter"/>
<path d="M335.2,369.3 L339.3,375.5 L335.2,381.7 L331.1,375.5 Z" fill="none" stroke="#ff00ff" stroke-width="1.6" stroke-linejoin="miter"/>
<path d="M366.6,364.9 L370.7,371.1 L366.6,377.3 L362.5,371.1 Z" fill="none" stroke="#ff00ff" stroke-width="1.6" stroke-linejoin="miter"/>
<path d="M397.6,345.4 L401.7,351.6 L397.6,357.8 L393.5,351.6 Z" fill="none" stroke="#ff00ff" stroke-width="1.6" stroke-linejoin="miter"/>
<path d="M429.0,169.6 L433.1,175.8 L429.0,182.0 L424.9,175.8 Z" fill="none" stroke="#ff00ff" stroke-width="1.6" stroke-linejoin="miter"/>
<path d="M460.0,225.9 L464.1,232.1 L460.0,238.3 L455.9,232.1 Z" fill="none" stroke="#ff00ff" stroke-width="1.6" stroke-linejoin="miter"/>
<path d="M492.1,247.2 L496.2,253.4 L492.1,259.6 L488.0,253.4 Z" fill="none" stroke="#ff00ff" stroke-width="1.6" stroke-linejoin="miter"/>
<path d="M525.3,255.2 L529.4,261.4 L525.3,267.6 L521.2,261.4 Z" fill="none" stroke="#ff00ff" stroke-width="1.6" stroke-linejoin="miter"/>
<text x="78.3" y="36.8" font-size="26.5" text-anchor="middle">×</text>
<text transform="translate(88.4,33.3) scale(1,1)" font-size="21.8">10</text>
<text transform="translate(113.3,23.2) scale(1.05,1)" font-size="17.6">6</text>
<text class="t g" x="304.8" y="452" font-size="23.1" text-anchor="middle">Distance from anode (mm)</text>
<text class="t g" transform="translate(24.7,213.5) rotate(-90)" font-size="23" text-anchor="middle">Electric field (V/m)</text>
<path d="M333.4,65.6 h43.3" stroke="#000000" stroke-width="1.6" fill="none"/>
<circle cx="355.3" cy="65.6" r="4.2" fill="none" stroke="#000000" stroke-width="1.6"/>
<text class="t" x="380.4" y="73.7" font-size="23.5">15ns</text>
<path d="M333.4,93 h43.3" stroke="#ff0000" stroke-width="1.6" fill="none"/>
<rect x="352.1" y="89.8" width="6.4" height="6.4" fill="none" stroke="#ff0000" stroke-width="1.6"/>
<text class="t" x="380.4" y="100.8" font-size="23.5">25ns</text>
<path d="M433.2,65.6 h43.3" stroke="#0000ff" stroke-width="1.6" fill="none"/>
<path d="M455.1,59.8 L460.1,68.8 L450.1,68.8 Z" fill="none" stroke="#0000ff" stroke-width="1.6" stroke-linejoin="miter"/>
<text class="t" x="480.1" y="73.7" font-size="23.5">35ns</text>
<path d="M433.2,93 h43.3" stroke="#ff00ff" stroke-width="1.6" fill="none"/>
<path d="M455.1,86.8 L459.2,93.0 L455.1,99.2 L451.0,93.0 Z" fill="none" stroke="#ff00ff" stroke-width="1.6" stroke-linejoin="miter"/>
<text class="t" x="480.1" y="100.8" font-size="23.5">45ns</text>
</svg></body></html>
